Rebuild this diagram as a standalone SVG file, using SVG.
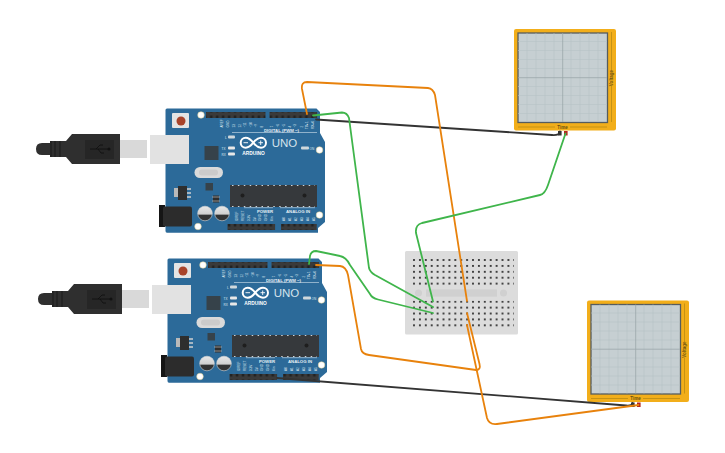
<svg xmlns="http://www.w3.org/2000/svg" width="725" height="453" viewBox="0 0 725 453">
<style>
text{font-family:"Liberation Sans",Arial,sans-serif}
.p{font-size:3.1px;fill:#dfe9f0;text-anchor:start}
.h{font-size:4.3px;font-weight:bold;fill:#e6eef4;text-anchor:middle}
.uno{font-size:11.5px;fill:#d5e3ec;text-anchor:middle}
.ard{font-size:4.8px;font-weight:bold;fill:#fff;text-anchor:middle}
.s{font-size:4.6px;font-weight:bold;fill:#6b5310;text-anchor:middle}
.w{fill:none;stroke-width:1.8;stroke-linecap:round;stroke-linejoin:round}
.o{stroke:#e8820c}.g{stroke:#3fb54b}.k{stroke:#333}
</style>
<defs>
<pattern id="hdr" width="5.95" height="6" patternUnits="userSpaceOnUse" x="0" y="0"><rect width="5.95" height="6" fill="#3a3a3a"/><rect x="1.7" y="1.5" width="2.6" height="3" fill="#222"/></pattern>
<pattern id="holes" width="5.9" height="5.9" patternUnits="userSpaceOnUse" x="413.05" y="259.05"><rect x="0" y="0" width="1.9" height="1.9" fill="#3a3a3a"/></pattern>
<pattern id="holes2" width="5.9" height="5.9" patternUnits="userSpaceOnUse" x="413.05" y="300.75"><rect x="0" y="0" width="1.9" height="1.9" fill="#3a3a3a"/></pattern>
<linearGradient id="cap" x1="0" y1="0" x2="0" y2="1"><stop offset="0" stop-color="#e8e8e8"/><stop offset=".55" stop-color="#cfcfcf"/><stop offset=".6" stop-color="#333"/><stop offset="1" stop-color="#333"/></linearGradient>
<g id="board">
<path d="M36,149 Q36,143 42,143 L50,143 L50,141 L66,141 L72,134 L120,134 L120,164 L72,164 L66,157 L50,157 L50,155 L42,155 Q36,155 36,149Z" fill="#2f2f2f"/>
<path d="M51,141V157M55,141V157M60,141V157" stroke="#1b1b1b" stroke-width="1"/>
<rect x="85" y="140" width="29" height="19" fill="#262626"/>
<path d="M90,149H108M96,149L100,145H103M98,149L101,153H104" stroke="#111" stroke-width=".9" fill="none"/><circle cx="109" cy="149" r="1.500" fill="#111"/>
<rect x="120" y="140" width="27" height="18" fill="#d9d9d9"/>
<path d="M170,135L172,132H176L178,135ZM170,164L172,167H176L178,164Z" fill="#e0e0e0"/>
<path d="M167,108.500H316.500L320,112V133L325,142V222L318,228V232.700H167Q165.500,232.700 165.500,231V110Q165.500,108.500 167,108.500Z" fill="#2c6a99"/>
<rect x="150" y="135" width="39" height="29" fill="#e2e2e2"/>
<rect x="172" y="113" width="17" height="15" rx="1" fill="#e4e4e4"/><circle cx="181" cy="121" r="4.500" fill="#a8432a"/>
<circle cx="201" cy="115" r="3.300" fill="#fff" stroke="#d8c98a" stroke-width=".5"/>
<circle cx="319.500" cy="150" r="3.300" fill="#fff" stroke="#d8c98a" stroke-width=".5"/>
<circle cx="319.500" cy="215" r="3.300" fill="#fff" stroke="#d8c98a" stroke-width=".5"/>
<circle cx="198" cy="226.500" r="3.300" fill="#fff" stroke="#d8c98a" stroke-width=".5"/>
<rect x="206" y="112" width="59.500" height="6" fill="url(#hdr)"/>
<rect x="269.500" y="112" width="47.600" height="6" fill="url(#hdr)"/>
<rect x="227.500" y="224" width="47.600" height="6" fill="url(#hdr)"/>
<rect x="281" y="224" width="35.700" height="6" fill="url(#hdr)"/>
<path d="M232,132.500H317M244,207.700H273M280,207.700H315" stroke="#d5e3ec" stroke-width=".6" fill="none"/>
<rect x="228" y="135.500" width="7" height="3" rx="1" fill="#cfd8dc"/>
<rect x="228" y="146.500" width="7" height="3" rx="1" fill="#e8e8e8"/>
<rect x="228" y="152.500" width="7" height="3" rx="1" fill="#e8e8e8"/>
<rect x="301" y="146.500" width="8" height="3" rx="1" fill="#cfd8dc"/>
<rect x="204.500" y="146" width="14" height="14" fill="#36424a"/>
<rect x="194.500" y="167" width="28.500" height="11" rx="5.500" fill="#dadada"/><rect x="199" y="169.500" width="19" height="6" rx="3" fill="#cbcbcb"/>
<rect x="205.500" y="183" width="7.500" height="7.500" fill="#36424a"/>
<rect x="174" y="188" width="4" height="9" fill="#b9b9b9"/><rect x="178" y="186" width="9" height="14" fill="#2e2e2e"/>
<path d="M187,189H191M187,193H191M187,197H191" stroke="#d0d0d0" stroke-width="1.500"/>
<rect x="213" y="195.500" width="6" height="7" fill="#2e2e2e"/><path d="M212,197H220M212,201H220" stroke="#aaa" stroke-width=".8"/>
<rect x="230" y="185" width="87" height="22" fill="#36393c"/>
<circle cx="242.500" cy="195.500" r="2" fill="#1e1e1e"/><circle cx="304.500" cy="195.500" r="2" fill="#1e1e1e"/>
<path d="M232,185.500H315M232,206.500H315" stroke="#cfd2d4" stroke-width="1" stroke-dasharray="1.500 4.400"/>
<rect x="159" y="205" width="6" height="22" fill="#151515"/><rect x="163" y="206.500" width="29" height="20" rx="2" fill="#2c2c2c"/>
<circle cx="205" cy="213.500" r="7.300" fill="url(#cap)" stroke="#d5d5d5" stroke-width=".6"/>
<circle cx="222" cy="213.500" r="7.300" fill="url(#cap)" stroke="#d5d5d5" stroke-width=".6"/>
<path d="M253.300,142.700C250,138.500 248,137.700 245.700,137.700A5,5 0 0 0 245.700,147.700C248,147.700 250,147 253.300,142.700C256.500,138.500 258.500,137.700 261,137.700A5,5 0 0 1 261,147.700C258.500,147.700 256.500,147 253.300,142.700Z" fill="none" stroke="#fff" stroke-width="2"/>
<path d="M243.500,142.700H248M258.500,142.700H263M260.700,140.500V145" stroke="#fff" stroke-width=".9"/>
</g>
<path id="grid" d="M527,33V122M536,33V122M545,33V122M554,33V122M571,33V122M580,33V122M589,33V122M598,33V122M518,41.500H607M518,50.500H607M518,59.500H607M518,68.500H607M518,86.500H607M518,95.500H607M518,104.500H607M518,113.500H607" stroke="#b7c2c6" stroke-width=".6" fill="none"/>
<g id="scope">
<rect x="514" y="29" width="102" height="101.500" rx="2" fill="#f2ae1a"/>
<rect x="518" y="33" width="89.500" height="89.500" fill="#c6cfd2" stroke="#565c5e" stroke-width="1.300"/>
<use href="#grid"/>
<path d="M562.700,33V122M518,77.700H607" stroke="#9aa6aa" stroke-width=".8" fill="none"/>
<path d="M518,127H555M570,127H607M611.500,32V70M611.500,86V122" stroke="#a67f12" stroke-width=".6" fill="none"/>
<rect x="558" y="131" width="3.600" height="4.500" fill="#333"/>
<rect x="564" y="131" width="3.600" height="4.500" fill="#b5261e"/>
</g>
</defs>
<g id="arduino-1">
<use href="#board"/>
<g>
<text class="p" transform="translate(223,127.500) rotate(-90)">AREF</text><text class="p" transform="translate(229,127.500) rotate(-90)">GND</text><text class="p" transform="translate(235,127.500) rotate(-90)">13</text><text class="p" transform="translate(240.500,127.500) rotate(-90)">12</text><text class="p" transform="translate(246,127.500) rotate(-90)">~11</text><text class="p" transform="translate(251.500,127.500) rotate(-90)">~10</text><text class="p" transform="translate(257,127.500) rotate(-90)">~9</text><text class="p" transform="translate(263,127.500) rotate(-90)">8</text>
<text class="p" transform="translate(273,127.500) rotate(-90)">7</text><text class="p" transform="translate(278.500,127.500) rotate(-90)">~6</text><text class="p" transform="translate(284.500,127.500) rotate(-90)">~5</text><text class="p" transform="translate(290.500,127.500) rotate(-90)">4</text><text class="p" transform="translate(296,127.500) rotate(-90)">~3</text><text class="p" transform="translate(302.500,127.500) rotate(-90)">2</text><text class="p" transform="translate(308,129) rotate(-90)">TX▸1</text><text class="p" transform="translate(314,129) rotate(-90)">RX◂0</text>
<text class="p" transform="translate(238,221) rotate(-90)">IOREF</text><text class="p" transform="translate(244,221) rotate(-90)">RESET</text><text class="p" transform="translate(250,221) rotate(-90)">3.3V</text><text class="p" transform="translate(255.500,221) rotate(-90)">5V</text><text class="p" transform="translate(261,221) rotate(-90)">GND</text><text class="p" transform="translate(267,221) rotate(-90)">GND</text><text class="p" transform="translate(273,221) rotate(-90)">Vin</text>
<text class="p" transform="translate(285,221) rotate(-90)">A0</text><text class="p" transform="translate(291,221) rotate(-90)">A1</text><text class="p" transform="translate(297,221) rotate(-90)">A2</text><text class="p" transform="translate(303,221) rotate(-90)">A3</text><text class="p" transform="translate(309,221) rotate(-90)">A4</text><text class="p" transform="translate(314.500,221) rotate(-90)">A5</text>
<text class="h" x="281.500" y="131.500">DIGITAL (PWM ~)</text><text class="h" x="265" y="213">POWER</text><text class="h" x="298" y="213">ANALOG IN</text>
<text class="p" x="225" y="138.500">L</text><text class="p" x="221.500" y="149.500">TX</text><text class="p" x="221.500" y="155.500">RX</text><text class="p" x="309.500" y="149.500">ON</text>
<text class="uno" x="284.500" y="147">UNO</text><text class="ard" x="253.500" y="155">ARDUINO</text>
</g>
</g>
<g id="arduino-2" transform="translate(2,150)">
<use href="#board"/>
<g>
<text class="p" transform="translate(223,127.500) rotate(-90)">AREF</text><text class="p" transform="translate(229,127.500) rotate(-90)">GND</text><text class="p" transform="translate(235,127.500) rotate(-90)">13</text><text class="p" transform="translate(240.500,127.500) rotate(-90)">12</text><text class="p" transform="translate(246,127.500) rotate(-90)">~11</text><text class="p" transform="translate(251.500,127.500) rotate(-90)">~10</text><text class="p" transform="translate(257,127.500) rotate(-90)">~9</text><text class="p" transform="translate(263,127.500) rotate(-90)">8</text>
<text class="p" transform="translate(273,127.500) rotate(-90)">7</text><text class="p" transform="translate(278.500,127.500) rotate(-90)">~6</text><text class="p" transform="translate(284.500,127.500) rotate(-90)">~5</text><text class="p" transform="translate(290.500,127.500) rotate(-90)">4</text><text class="p" transform="translate(296,127.500) rotate(-90)">~3</text><text class="p" transform="translate(302.500,127.500) rotate(-90)">2</text><text class="p" transform="translate(308,129) rotate(-90)">TX▸1</text><text class="p" transform="translate(314,129) rotate(-90)">RX◂0</text>
<text class="p" transform="translate(238,221) rotate(-90)">IOREF</text><text class="p" transform="translate(244,221) rotate(-90)">RESET</text><text class="p" transform="translate(250,221) rotate(-90)">3.3V</text><text class="p" transform="translate(255.500,221) rotate(-90)">5V</text><text class="p" transform="translate(261,221) rotate(-90)">GND</text><text class="p" transform="translate(267,221) rotate(-90)">GND</text><text class="p" transform="translate(273,221) rotate(-90)">Vin</text>
<text class="p" transform="translate(285,221) rotate(-90)">A0</text><text class="p" transform="translate(291,221) rotate(-90)">A1</text><text class="p" transform="translate(297,221) rotate(-90)">A2</text><text class="p" transform="translate(303,221) rotate(-90)">A3</text><text class="p" transform="translate(309,221) rotate(-90)">A4</text><text class="p" transform="translate(314.500,221) rotate(-90)">A5</text>
<text class="h" x="281.500" y="131.500">DIGITAL (PWM ~)</text><text class="h" x="265" y="213">POWER</text><text class="h" x="298" y="213">ANALOG IN</text>
<text class="p" x="225" y="138.500">L</text><text class="p" x="221.500" y="149.500">TX</text><text class="p" x="221.500" y="155.500">RX</text><text class="p" x="309.500" y="149.500">ON</text>
<text class="uno" x="284.500" y="147">UNO</text><text class="ard" x="253.500" y="155">ARDUINO</text>
</g>
</g>
<g id="breadboard">
<rect x="405" y="251" width="113" height="83.500" rx="1.500" fill="#dcdcdc"/>
<rect x="426" y="289.300" width="71" height="7.400" fill="#d0d0d0"/>
<circle cx="418.500" cy="293" r="3.500" fill="#d0d0d0"/><circle cx="503.500" cy="293" r="3.500" fill="#d0d0d0"/>
<rect x="413" y="259" width="101" height="29" fill="url(#holes)"/>
<rect x="413" y="300.700" width="101" height="29" fill="url(#holes2)"/>
</g>
<g id="oscilloscope-1">
<use href="#scope"/>
<text class="s" x="562.500" y="128.700">Time</text>
<text class="s" transform="translate(613,78) rotate(-90)">Voltage</text>
</g>
<g id="oscilloscope-2" transform="translate(73,271.500)">
<use href="#scope"/>
<text class="s" x="562.500" y="128.700">Time</text>
<text class="s" transform="translate(613,78) rotate(-90)">Voltage</text>
</g>
<g id="connectors">
<path class="w k" d="M316,119.500L552,135Q560,135.500 560,131.500"/>
<path class="w k" d="M277,378L626,405.500Q632.500,406 632.500,403"/>
<path class="w o" d="M307,114L302,89Q301,82 307,82L428,88Q433,88.500 435,95L467,301"/>
<path class="w o" d="M316,265L340,266Q346,266.500 348,275L361,349Q362,354 369,355L476,370Q481,370 479.500,364L467,313"/>
<path class="w o" d="M467,325L487,418Q489,425 497,424L638.500,405"/>
<path class="w g" d="M313,115.500L342,112.500Q347,112.500 349,118L369,268Q370,272 375,275L433,307"/>
<path class="w g" d="M309,264L310,256Q311,251 316,251L340,256Q346,257 350,265L370,294Q372,298 378,299.500L433,313"/>
<path class="w g" d="M433,301.500L416,233Q415,225 422,223L540,195Q545,194 548,185L565.500,133.500"/>
</g>
</svg>
